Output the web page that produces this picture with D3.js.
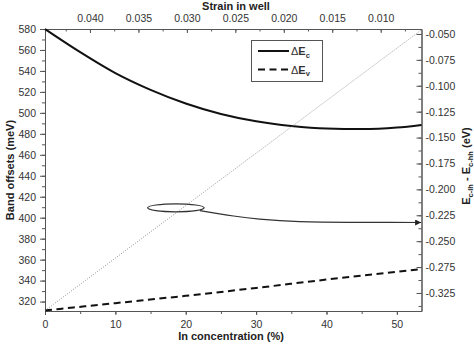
<!DOCTYPE html>
<html>
<head>
<meta charset="utf-8">
<script src="https://cdn.jsdelivr.net/npm/d3@7"></script>
<style>
  html, body { margin: 0; padding: 0; background: #fff; }
  svg { display: block; font-family: "Liberation Sans", Arial, sans-serif; }
</style>
</head>
<body>
<svg id="chart" width="474" height="344"></svg>
<script>
// ---- data ----
const inConc   = [0, 5, 10, 15, 20, 25, 30, 35, 40, 45, 50, 53.5];
const deltaEc  = [580, 558, 538, 522, 509, 499, 492, 487.5, 485, 484.5, 486, 488.5];
const evConc   = [0, 10, 20, 30, 40, 50, 53.5];
const deltaEv  = [311.5, 318.5, 325.5, 333, 341, 348.5, 351];
const splitConc = [0, 53.5];
const splitEv   = [-0.317, -0.046];          // E_c-lh - E_c-hh (eV), right axis

const leftTicks  = [320, 340, 360, 380, 400, 420, 440, 460, 480, 500, 520, 540, 560, 580];
const bottomTicks = [0, 10, 20, 30, 40, 50];
const topTicks   = [0.040, 0.035, 0.030, 0.025, 0.020, 0.015, 0.010];
const rightTicks = [-0.050, -0.075, -0.100, -0.125, -0.150, -0.175, -0.200, -0.225, -0.250, -0.275, -0.300];
const rightLabels = ["-0.050", "-0.075", "-0.100", "-0.125", "-0.150", "-0.175", "-0.200", "-0.225", "-0.250", "-0.275", "-0.325"];

// annotation (data units)
const ellipseCenter = [18.6, 409.4];
const ellipseRadius = [4.02, 3.8];
const arrowConc = [22.0, 26.8, 30.5, 36.2, 43.3, 53.45];
const arrowMeV  = [406.8, 401.6, 398.7, 396.3, 395.6, 395.4];

// ---- layout ----
const W = 474, H = 344;
const m = { left: 45, top: 29, right: 52.5, bottom: 33 };
const x0 = m.left, x1 = W - m.right, y0 = H - m.bottom, y1 = m.top;

const x = d3.scaleLinear().domain([0, 53.5]).range([x0, x1]);
const xTop = d3.scaleLinear().domain([0.04464, 0.00579]).range([x0, x1]);
const y = d3.scaleLinear().domain([311, 580]).range([y0, y1]);
const yR = d3.scaleLinear().domain([-0.3174, -0.0452]).range([y0, y1]);

const svg = d3.select("#chart");
const axisColor = "#555";
const textColor = "#333";

function styleAxis(g) {
  g.selectAll("path.domain").attr("stroke", axisColor).attr("stroke-width", 1);
  g.selectAll(".tick line").attr("stroke", axisColor).attr("stroke-width", 1);
  g.selectAll(".tick text").attr("fill", textColor).style("font-size", "10.5px")
    .style("font-family", "'Liberation Sans', Arial, sans-serif");
}

// minor ticks
const minorLeft = d3.range(320, 581, 10).filter(v => v % 20 !== 0);
minorLeft.unshift(); 
svg.append("g").attr("transform", `translate(${x0},0)`)
  .call(d3.axisLeft(y).tickValues(d3.range(320, 581, 10)).tickSize(3).tickSizeOuter(0).tickFormat(""))
  .call(styleAxis);
svg.append("g").attr("transform", `translate(0,${y0})`)
  .call(d3.axisBottom(x).tickValues(d3.range(0, 54, 5)).tickSize(3).tickSizeOuter(0).tickFormat(""))
  .call(styleAxis);
svg.append("g").attr("transform", `translate(0,${y1})`)
  .call(d3.axisTop(xTop).tickValues(d3.range(0, 15).map(i => 0.0425 - 0.0025 * i).filter(v => v > 0.006)).tickSize(-2.5).tickSizeOuter(0).tickFormat(""))
  .call(styleAxis);
svg.append("g").attr("transform", `translate(${x1},0)`)
  .call(d3.axisRight(yR).tickValues(d3.range(0, 22).map(i => -0.050 - 0.0125 * i).filter(v => v >= -0.317)).tickSize(-3).tickSizeOuter(0).tickFormat(""))
  .call(styleAxis);

// major axes
svg.append("g").attr("transform", `translate(${x0},0)`)
  .call(d3.axisLeft(y).tickValues(leftTicks).tickSize(5).tickPadding(4).tickSizeOuter(0).tickFormat(d3.format("d")))
  .call(styleAxis);
svg.append("g").attr("transform", `translate(0,${y0})`)
  .call(d3.axisBottom(x).tickValues(bottomTicks).tickSize(4).tickPadding(6).tickSizeOuter(0).tickFormat(d3.format("d")))
  .call(styleAxis);
svg.append("g").attr("transform", `translate(0,${y1})`)
  .call(d3.axisTop(xTop).tickValues(topTicks).tickSize(-4).tickPadding(7).tickSizeOuter(0).tickFormat(d3.format(".3f")))
  .call(styleAxis);
svg.append("g").attr("transform", `translate(${x1},0)`)
  .call(d3.axisRight(yR).tickValues(rightTicks).tickSize(-5).tickPadding(4).tickSizeOuter(0)
    .tickFormat((d, i) => rightLabels[i]))
  .call(styleAxis);

// ---- series ----
const lineEc = d3.line().x((d, i) => x(inConc[i])).y(d => y(d)).curve(d3.curveMonotoneX);
svg.append("path").datum(deltaEc).attr("d", lineEc)
  .attr("fill", "none").attr("stroke", "#111").attr("stroke-width", 2);

const lineEv = d3.line().x((d, i) => x(evConc[i])).y(d => y(d)).curve(d3.curveMonotoneX);
svg.append("path").datum(deltaEv).attr("d", lineEv)
  .attr("fill", "none").attr("stroke", "#111").attr("stroke-width", 2)
  .attr("stroke-dasharray", "7,4.5");

const lineSplit = d3.line().x((d, i) => x(splitConc[i])).y(d => yR(d));
svg.append("path").datum(splitEv).attr("d", lineSplit)
  .attr("fill", "none").attr("stroke", "#888").attr("stroke-width", 0.9)
  .attr("stroke-dasharray", "1,1.5");

// ---- annotation ----
svg.append("defs").append("marker")
  .attr("id", "arrowhead").attr("viewBox", "0 0 10 10")
  .attr("refX", 10).attr("refY", 5)
  .attr("markerWidth", 9).attr("markerHeight", 6).attr("markerUnits", "userSpaceOnUse")
  .attr("orient", "auto")
  .append("path").attr("d", "M0,0 L10,5 L0,10 Z").attr("fill", "#222");

svg.append("ellipse")
  .attr("cx", x(ellipseCenter[0])).attr("cy", y(ellipseCenter[1]))
  .attr("rx", x(ellipseRadius[0]) - x(0)).attr("ry", y(0) - y(ellipseRadius[1]))
  .attr("fill", "none").attr("stroke", "#333").attr("stroke-width", 1.2);

const arrowLine = d3.line().x((d, i) => x(arrowConc[i])).y(d => y(d)).curve(d3.curveMonotoneX);
svg.append("path").datum(arrowMeV).attr("d", arrowLine)
  .attr("fill", "none").attr("stroke", "#333").attr("stroke-width", 1.2)
  .attr("marker-end", "url(#arrowhead)");

// ---- legend ----
const lg = svg.append("g");
lg.append("rect").attr("x", 251.5).attr("y", 40.5).attr("width", 71).attr("height", 41)
  .attr("fill", "#fff").attr("stroke", axisColor).attr("stroke-width", 1);
const legendItems = [
  { sub: "c", dash: null, yy: 51 },
  { sub: "v", dash: "7,4.5", yy: 69.5 }
];
legendItems.forEach(it => {
  lg.append("line").attr("x1", 258).attr("x2", 289).attr("y1", it.yy).attr("y2", it.yy)
    .attr("stroke", "#111").attr("stroke-width", 2)
    .attr("stroke-dasharray", it.dash);
  const t = lg.append("text").attr("x", 291).attr("y", it.yy + 4)
    .attr("fill", textColor).style("font-size", "11px");
  t.append("tspan").text("Δ");
  t.append("tspan").style("font-weight", "bold").text("E");
  t.append("tspan").style("font-weight", "bold").style("font-size", "7.5px").attr("dy", 2.5).text(it.sub);
});

// ---- axis titles ----
svg.append("text").attr("x", 236).attr("y", 10).attr("text-anchor", "middle")
  .attr("fill", "#222").style("font-size", "11px").style("font-weight", "bold")
  .text("Strain in well");
svg.append("text").attr("x", 231).attr("y", 340).attr("text-anchor", "middle")
  .attr("fill", "#222").style("font-size", "11px").style("font-weight", "bold")
  .text("In concentration (%)");
svg.append("text").attr("transform", "translate(13.5,170) rotate(-90)").attr("text-anchor", "middle")
  .attr("fill", "#222").style("font-size", "11px").style("font-weight", "bold")
  .text("Band offsets (meV)");

const rt = svg.append("text").attr("transform", "translate(470,166) rotate(-90)").attr("text-anchor", "middle")
  .attr("fill", "#222").style("font-size", "11px").style("font-weight", "bold");
rt.append("tspan").text("E");
rt.append("tspan").style("font-size", "7.5px").attr("dy", 2.5).text("c-lh");
rt.append("tspan").attr("dy", -2.5).text(" - E");
rt.append("tspan").style("font-size", "7.5px").attr("dy", 2.5).text("c-hh");
rt.append("tspan").attr("dy", -2.5).text(" (eV)");
</script>
</body>
</html>
